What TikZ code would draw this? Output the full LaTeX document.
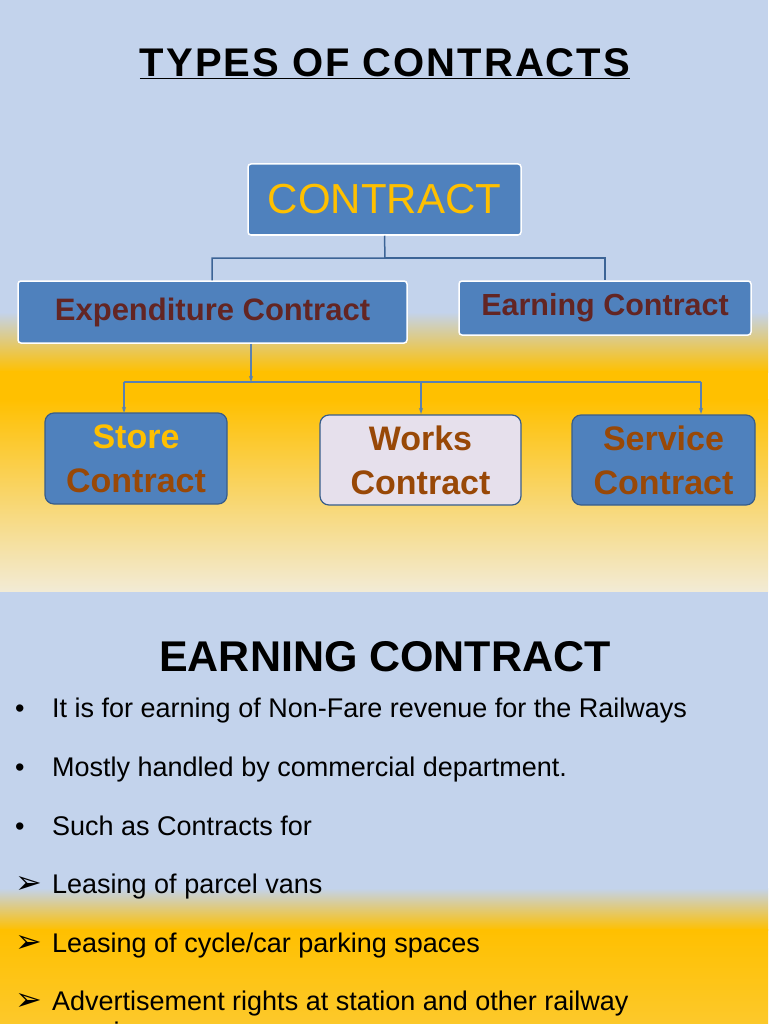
\documentclass[tikz,border=0pt]{standalone}
\usepackage{fontspec}
\setmainfont{Liberation Sans}
\newfontfamily\dejavu{DejaVu Sans}
\usetikzlibrary{arrows.meta}
\definecolor{bgblue}{HTML}{C3D3EC}
\definecolor{orng}{HTML}{FFC000}
\definecolor{cream}{HTML}{F2EBD6}
\definecolor{boxblue}{HTML}{4F81BD}
\definecolor{boxedge}{HTML}{385D8A}
\definecolor{maroon}{HTML}{632523}
\definecolor{brownt}{HTML}{984807}
\definecolor{lilac}{HTML}{E6E0EC}
\definecolor{conn}{HTML}{3C6496}
\tikzset{
 topbox/.style={draw=white,line width=1.5pt,fill=boxblue,rounded corners=3pt,inner sep=0pt},
 lowbox/.style={draw=boxedge,line width=1.2pt,fill=boxblue,rounded corners=9pt,inner sep=0pt,align=center,font=\bfseries\fontsize{34}{44}\selectfont,text=brownt},
 link/.style={draw=conn,line width=1.5pt},
 arr/.style={draw=boxblue!80!gray,line width=1.2pt,-{Stealth[length=6pt,width=4pt]}},
 bul/.style={anchor=base west,font=\fontsize{27}{31}\selectfont,inner sep=0pt}
}
\begin{document}
\begin{tikzpicture}[x=1pt,y=-1pt]
\useasboundingbox (0,0) rectangle (768,1024);
\begin{scope}
\clip (0,0) rectangle (768,1024);
% top slide background
\fill[bgblue] (0,0) rectangle (768,592);
\shade[top color=bgblue,bottom color=orng] (0,312) rectangle (768,372);
\fill[orng] (0,371) rectangle (768,400);
\shade[top color=orng,bottom color=cream] (0,399) rectangle (768,592);
% bottom slide background
\fill[bgblue] (0,592) rectangle (768,1024);
\shade[top color=bgblue,bottom color=orng] (0,888) rectangle (768,930);
\shade[top color=orng,bottom color=orng!80!cream] (0,929) rectangle (768,1024);

% title
\node[font=\bfseries\fontsize{40}{44}\selectfont\addfontfeature{LetterSpace=5}] (title) at (385,64) {\underline{TYPES OF CONTRACTS}};

% nodes
\node[topbox,minimum width=273pt,minimum height=71pt,text=orng,font=\fontsize{42}{48}\selectfont] (contract) at (384.5,199.5) {CONTRACT};
\node[topbox,minimum width=389pt,minimum height=62pt,text=maroon,font=\bfseries\fontsize{31}{36}\selectfont] (exp) at (212.5,312) {Expenditure Contract};
\node[topbox,minimum width=292pt,minimum height=54pt,text=maroon,font=\bfseries\fontsize{30.5}{36}\selectfont] (earn) at (605,308) {Earning Contract};
\node[lowbox,minimum width=182pt,minimum height=91pt] (store) at (136,458.5) {\textcolor{orng}{Store}\\Contract};
\node[lowbox,fill=lilac,minimum width=201pt,minimum height=90pt] (works) at (420.5,460) {Works\\Contract};
\node[lowbox,minimum width=183pt,minimum height=90pt] (service) at (663.5,460) {Service\\Contract};

% connectors
\coordinate (j1) at (385,258);
\draw[link] (contract.south) -- (j1) -| (exp.north -| 212,0);
\draw[link] (j1) -| (earn.north);
\coordinate (bus) at (251,382);
\draw[arr] (exp.south -| bus) -- (bus);
\draw[draw=boxblue!80!gray,line width=1.5pt] (124,382) -- (701,382);
\draw[arr] (124,382) -- (124,413);
\draw[arr] (421,382) -- (421,414);
\draw[arr] (701,382) -- (701,414);

% earning contract slide
\node[font=\bfseries\fontsize{43}{48}\selectfont] (h2) at (385,657) {EARNING CONTRACT};
\foreach \y/\t in {717/{It is for earning of Non-Fare revenue for the Railways}, 776/{Mostly handled by commercial department.}, 835/{Such as Contracts for}}{
 \node[bul] at (15,\y) {•};
 \node[bul] at (52,\y) {\t};
}
\foreach \y/\t in {893/{Leasing of parcel vans}, 952/{Leasing of cycle/car parking spaces}, 1010/{Advertisement rights at station and other railway}, 1041/{premises}}{
 \node[bul] at (52,\y) {\t};
}
\foreach \y in {893,952,1010}{
 \node[bul,font=\dejavu\bfseries\fontsize{32}{34}\selectfont] at (15,\y) {➢};
}
\end{scope}
\end{tikzpicture}
\end{document}
